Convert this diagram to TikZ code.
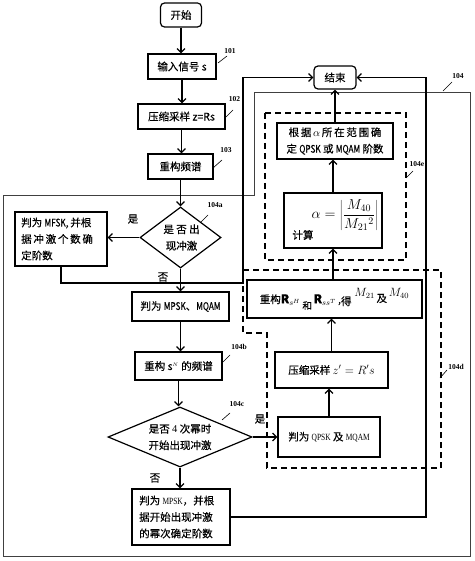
\documentclass[tikz,border=0pt]{standalone}
\usepackage{graphicx}
\usepackage{fontspec}
\setmainfont{Noto Sans CJK SC}[FakeBold=0.4]
\newfontfamily\serif{Liberation Serif}
\newcommand\nar[1]{\scalebox{0.78}[1]{#1}}
\usetikzlibrary{arrows.meta,shapes.geometric,calc}
\begin{document}
\begin{tikzpicture}[x=1pt,y=-1pt,
  txt/.style={font=\fontsize{10.5}{16.5}\selectfont},
  box/.style={draw, line width=1.2pt, inner sep=0pt, align=center, txt},
  rbox/.style={box, rounded corners=4pt},
  dia/.style={draw, line width=1.2pt, shape=diamond, inner sep=0pt},
  arr/.style={-{Straight Barb[length=4pt,width=8pt]}, line width=1.2pt},
  dsh/.style={line width=1.1pt, dash pattern=on 6pt off 4pt},
  region/.style={draw=black!75, line width=0.7pt},
  lab/.style={font=\serif\bfseries\fontsize{7.5}{9}\selectfont, inner sep=0pt},
  lead/.style={line width=0.6pt},
  yn/.style={txt, inner sep=0pt}
]
\useasboundingbox (0,0) rectangle (474,561);

% region 104
\draw[region] (3,195) -- (254,195) -- (254,92) -- (470,92) -- (470,556) -- (3,556) -- cycle;
% dashed regions
\draw[dsh] (265,113) rectangle (406,260);
\draw[dsh] (243,270) -- (441,270) -- (441,468) -- (267,468) -- (267,333) -- (243,333) -- cycle;

% left column
\node[rbox, minimum width=41pt, minimum height=24pt] (start) at (181,15) {开始};
\node[box, minimum width=68pt, minimum height=25pt] (b101) at (182,66.5) {输入信号 s};
\node[box, minimum width=87pt, minimum height=25pt] (b102) at (181.5,116.5) {压缩采样 z=Rs};
\node[box, minimum width=65pt, minimum height=25pt] (b103) at (180.5,166.5) {重构频谱};
\node[dia, minimum width=81pt, minimum height=61pt] (d1) at (180.5,237.5) {};
\node[txt, align=center, inner sep=0pt] (d1t) at (181.5,237.5) {是\ 否\ 出\\现冲激};
\node[box, minimum width=92pt, minimum height=54pt] (mfsk) at (61,239) {};
\node[txt, align=left, inner sep=0pt, anchor=west] (mfskt) at (21,239)
  {判为 \nar{MFSK},\,并根\\据\,冲\,激\,个\,数\,确\\定阶数};
\node[box, minimum width=97pt, minimum height=29pt] (mq) at (180.5,306.5) {判为 \nar{MPSK}、\nar{MQAM}};
\node[box, minimum width=87pt, minimum height=28pt] (sN) at (178.5,366) {重构 s$^{\scriptscriptstyle N}$ 的频谱};
\node[dia, minimum width=144pt, minimum height=60pt] (d2) at (180,437) {};
\node[txt, align=center, inner sep=0pt] (d2t) at (180,437) {是否\ {\serif 4}\ 次幂时\\开始出现冲激};
\node[box, minimum width=98pt, minimum height=56pt] (mpsk) at (181,517) {};
\node[txt, align=left, inner sep=0pt, anchor=west] (mpskt) at (139,517)
  {判为 {\serif\fontsize{9.5}{10}\selectfont\nar{MPSK}}，并根\\据开始出现冲激\\的幂次确定阶数};

% right column
\node[box, minimum width=102pt, minimum height=40pt] (qpsk) at (329,437)
  {判为 {\serif\fontsize{9.5}{10}\selectfont\nar{QPSK}} 及 {\serif\fontsize{9.5}{10}\selectfont\nar{MQAM}}};
\node[box, minimum width=113pt, minimum height=36pt] (zp) at (331.5,370)
  {压缩采样 {\fontsize{12}{14}\selectfont$z' = R's$}};
\node[box, minimum width=175pt, minimum height=38pt] (rr) at (334.5,299)
  {重构{\fontsize{12}{14}\selectfont$\mathbf{R}_{s^H}$}\,\raisebox{-6pt}{\fontsize{9.5}{10}\selectfont 和}\,{\fontsize{12}{14}\selectfont$\mathbf{R}_{ss^T}$}\,,\raisebox{-2pt}{得}\;\raisebox{7pt}{\fontsize{12}{14}\selectfont$M_{21}$}\,\raisebox{1pt}{及}\,\raisebox{7pt}{\fontsize{12}{14}\selectfont$M_{40}$}};
\node[box, minimum width=98pt, minimum height=55pt] (alpha) at (333,220.5) {};
\node[txt, inner sep=0pt] (alphat1) at (303,235) {计算};
\node[inner sep=0pt, font=\fontsize{14}{16}\selectfont] (alphat2) at (345,215) {$\displaystyle\alpha=\left|\frac{M_{40}}{M_{21}{}^{2}}\right|$};
\node[box, minimum width=116pt, minimum height=36pt] (gen) at (335,141)
  {根\,据\,$\alpha$\,所\,在\,范\,围\,确\\定 \nar{QPSK} 或 \nar{MQAM} 阶数};
\node[rbox, minimum width=42pt, minimum height=23pt] (end) at (335,77.5) {结束};

% connectors
\draw[arr] (start.south) -- (start.south |- b101.north);
\draw[arr] (b101.south) -- (b101.south |- b102.north);
\draw[arr] (b102.south) -- (b102.south |- b103.north);
\draw[arr] (b103.south) -- (b103.south |- d1.north);
\draw[arr] (d1.west) -- (d1.west -| mfsk.east);
\draw[arr] (d1.south) -- (d1.south |- mq.north);
\coordinate (j1) at (243,283);
\draw[arr] (mfsk.south) |- (j1) |- (end.west);
\draw[arr] (mq.south) -- (mq.south |- sN.north);
\draw[arr] (sN.south) -- (sN.south |- d2.north);
\draw[arr] (d2.east) -- (qpsk.west);
\draw[arr] (d2.south) -- (d2.south |- mpsk.north);
\coordinate (j3) at (426,517);
\draw[arr] (mpsk.east) -- (j3) |- (end.east);
\draw[arr] (qpsk.north) -- (qpsk.north |- zp.south);
\draw[arr] (zp.north) -- (zp.north |- rr.south);
\draw[arr] (rr.north -| alpha.south) -- (alpha.south);
\draw[arr] (alpha.north) -- (alpha.north |- gen.south);
\draw[arr] (gen.north) -- (gen.north |- end.south);

% yes / no
\node[yn] (y1) at (133,219) {是};
\node[yn] (n1) at (163,277) {否};
\node[yn] (y2) at (260,419) {是};
\node[yn] (n2) at (155,478) {否};

% reference labels
\node[lab] (l101) at (230,51) {101};
\draw[lead] (218,63) -- (227,56);
\node[lab] (l102) at (234.5,99) {102};
\draw[lead] (226,117) -- (233,110);
\node[lab] (l103) at (226,150) {103};
\draw[lead] (213,168) -- (222,160);
\node[lab] (l104) at (458,76) {104};
\draw[lead] (443,91) -- (452,82);
\node[lab] (l104e) at (417,164) {104e};
\draw[lead] (406,178) -- (413,171);
\node[lab] (l104a) at (215,205) {104a};
\draw[lead] (200,223) -- (208,215);
\node[lab] (l104b) at (239,347) {104b};
\draw[lead] (223,362) -- (230,355);
\node[lab] (l104c) at (237,404) {104c};
\draw[lead] (222,420) -- (230,413);
\node[lab] (l104d) at (456,367) {104d};
\draw[lead] (440,378) -- (447,370);
\end{tikzpicture}
\end{document}
